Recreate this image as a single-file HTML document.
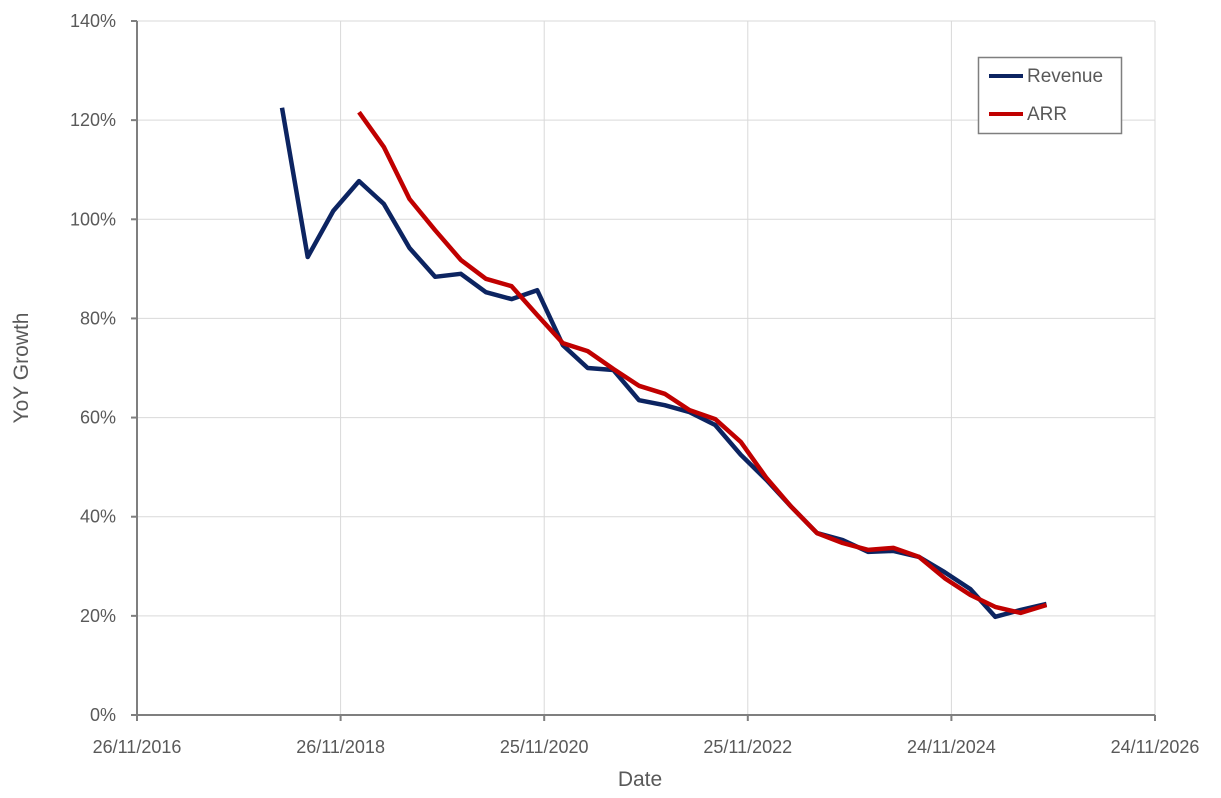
<!DOCTYPE html>
<html><head><meta charset="utf-8"><style>
body{margin:0;background:#fff;}
svg{display:block;font-family:"Liberation Sans",Arial,sans-serif;}
</style></head><body>
<svg id="chart" width="1221" height="798"></svg>
<script>
const revDates=["2018-04-30","2018-07-31","2018-10-31","2019-01-31","2019-04-30","2019-07-31","2019-10-31","2020-01-31","2020-04-30","2020-07-31","2020-10-31","2021-01-31","2021-04-30","2021-07-31","2021-10-31","2022-01-31","2022-04-30","2022-07-31","2022-10-31","2023-01-31","2023-04-30","2023-07-31","2023-10-31","2024-01-31","2024-04-30","2024-07-31","2024-10-31","2025-01-31","2025-04-30","2025-07-31","2025-10-31"];
const revValues=[122.5,92.4,101.7,107.7,103.1,94.2,88.4,89.0,85.3,83.9,85.7,74.6,70.0,69.6,63.5,62.5,61.1,58.5,52.5,47.4,42.0,36.7,35.3,32.9,33.1,31.9,28.8,25.4,19.8,21.2,22.4];
const arrDates=revDates.slice(3);
const arrValues=[121.6,114.6,104.1,97.8,91.8,88.0,86.5,80.7,75.0,73.4,69.8,66.4,64.8,61.5,59.7,55.1,47.8,42.0,36.7,34.7,33.3,33.7,31.9,27.6,24.2,21.8,20.6,22.2];
const xTickDates=["2016-11-26","2018-11-26","2020-11-25","2022-11-25","2024-11-24","2026-11-24"];
const xTickLabels=["26/11/2016","26/11/2018","25/11/2020","25/11/2022","24/11/2024","24/11/2026"];
const yTicks=[0,20,40,60,80,100,120,140];

const NS="http://www.w3.org/2000/svg";
const svg=document.getElementById('chart');
const L=137,R=1155,T=21,B=715;
const d0=Date.parse(xTickDates[0]),d1=Date.parse(xTickDates[xTickDates.length-1]);
function xs(d){return L+(Date.parse(d)-d0)/(d1-d0)*(R-L);}
function ys(v){return B-v/140*(B-T);}
function el(t,a,p){const e=document.createElementNS(NS,t);for(const k in a)e.setAttribute(k,a[k]);(p||svg).appendChild(e);return e;}

yTicks.forEach(v=>{
  const g=el('line',{x1:L,x2:R,y1:ys(v),y2:ys(v),stroke:'#d9d9d9','stroke-width':1});
  
  
  const t=el('text',{x:L-21,y:ys(v)+6,'text-anchor':'end','font-size':18,fill:'#595959'});
  t.textContent=v+'%';
  
  
  const tk=el('line',{x1:L-6,x2:L,y1:ys(v),y2:ys(v),stroke:'#7f7f7f','stroke-width':2});
  
  
});
xTickDates.forEach((d,i)=>{
  const x=xs(d);
  if(i>0){const g=el('line',{x1:x,x2:x,y1:T,y2:B,stroke:'#d9d9d9','stroke-width':1});
  
  }
  const tk=el('line',{x1:x,x2:x,y1:B,y2:B+6,stroke:'#7f7f7f','stroke-width':2});
  
  
  const t=el('text',{x:x,y:753,'text-anchor':'middle','font-size':18,fill:'#595959'});
  t.textContent=xTickLabels[i];
  
  
});
const ya=el('line',{x1:L,x2:L,y1:T,y2:B,stroke:'#7f7f7f','stroke-width':2});


const xa=el('line',{x1:L,x2:R,y1:B,y2:B,stroke:'#7f7f7f','stroke-width':2});



function series(dates,vals,color,name){
  const p=el('polyline',{points:dates.map((d,i)=>xs(d).toFixed(1)+','+ys(vals[i]).toFixed(1)).join(' '),fill:'none',stroke:color,'stroke-width':4.5,'stroke-linejoin':'round'});
  
  
}
series(revDates,revValues,'#0c2461','revenue-line');
series(arrDates,arrValues,'#c00000','arr-line');

const xt=el('text',{x:640,y:786,'text-anchor':'middle','font-size':21,fill:'#595959'});
xt.textContent='Date';


const yt=el('text',{x:0,y:0,'text-anchor':'middle','font-size':21,fill:'#595959',transform:'translate(28,368) rotate(-90)'});
yt.textContent='YoY Growth';



const lg=el('g',{});


el('rect',{x:978.5,y:57.5,width:143,height:76,fill:'#fff',stroke:'#7f7f7f','stroke-width':1.5},lg);
[['Revenue','#0c2461',76],['ARR','#c00000',114]].forEach(([n,c,y])=>{
  const g=el('g',{},lg);
  
  
  el('line',{x1:989,x2:1023,y1:y,y2:y,stroke:c,'stroke-width':4},g);
  const t=el('text',{x:1027,y:y+6,'font-size':19,fill:'#595959'},g);
  t.textContent=n;
});
</script>
</body></html>
